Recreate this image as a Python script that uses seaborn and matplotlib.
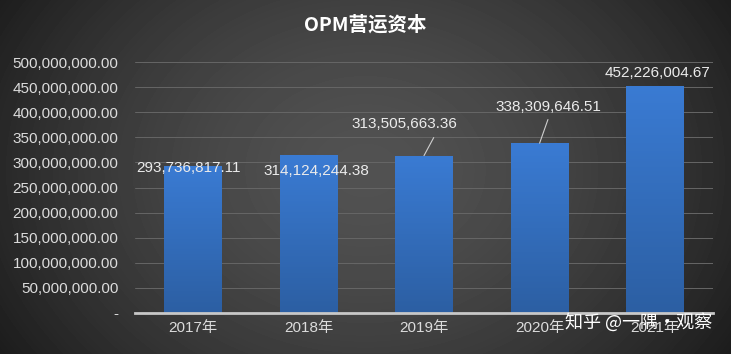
import numpy as np
import pandas as pd
import seaborn as sns
import matplotlib.pyplot as plt
from matplotlib.colors import LinearSegmentedColormap
from matplotlib.ticker import FuncFormatter

years = ["2017年", "2018年", "2019年", "2020年", "2021年"]
opm = [293736817.11, 314124244.38, 313505663.36, 338309646.51, 452226004.67]
y_ticks = [0, 50e6, 100e6, 150e6, 200e6, 250e6, 300e6, 350e6, 400e6, 450e6, 500e6]

# label offsets (points) and leader line ends, per bar
label_offsets = [(-3, -2), (6, -11), (-14, 23), (6, 26), (2, 9)]
leader_ends = [None, None, (7, 13), (6, 17), None]

sns.set_style("dark")
plt.rcParams["font.family"] = ["Liberation Sans", "Noto Sans CJK SC", "DejaVu Sans"]

df = pd.DataFrame({"year": years, "value": opm})

fig = plt.figure(figsize=(7.31, 3.54), dpi=100)

# radial grey background
bg = fig.add_axes([0, 0, 1, 1], zorder=-10)
yy, xx = np.mgrid[0:354, 0:731]
r = np.sqrt(((xx - 365) / 420.0) ** 2 + ((yy - 170) / 330.0) ** 2)
shade = np.clip(0.32 - 0.2 * r ** 1.6, 0.11, 0.4)
bg.imshow(shade, cmap="gray", vmin=0, vmax=1, aspect="auto")
bg.axis("off")

ax = fig.add_axes([135 / 731, 1 - 313 / 354, 578 / 731, 251 / 354])
ax.set_facecolor("none")

sns.barplot(df, x="year", y="value", color="#3675c6", width=0.5,
            saturation=1, errorbar=None, ax=ax, zorder=3,
            edgecolor="none", linewidth=0)

# vertical gradient inside each bar
grad = np.linspace(1, 0, 100).reshape(-1, 1)
cmap = LinearSegmentedColormap.from_list("bar", ["#2c5fa3", "#3a7bd3"])
for p in ax.patches:
    x0, w, h = p.get_x(), p.get_width(), p.get_height()
    im = ax.imshow(grad, extent=[x0, x0 + w, 0, h], aspect="auto",
                   cmap=cmap, zorder=3.5)
    im.set_clip_path(p)

ax.set_xlim(-0.5, len(years) - 0.5)
ax.set_ylim(0, 500e6)
ax.set_yticks(y_ticks)
ax.yaxis.set_major_formatter(
    FuncFormatter(lambda v, pos: "-" if v == 0 else f"{v:,.2f}"))
ax.grid(axis="y", color="#666666", linewidth=0.7, zorder=0)
ax.grid(axis="x", visible=False)
for s in ["top", "right", "left"]:
    ax.spines[s].set_visible(False)
ax.spines["bottom"].set_color("#c8c8c8")
ax.spines["bottom"].set_linewidth(2)
ax.spines["bottom"].set_zorder(5)
ax.tick_params(axis="y", colors="#dcdcdc", labelsize=11, length=0, pad=12)
ax.tick_params(axis="x", colors="#dcdcdc", labelsize=11, length=0, pad=6)
ax.set_xlabel("")
ax.set_ylabel("")

for i, v in enumerate(opm):
    ax.annotate(f"{v:,.2f}", xy=(i, v), xytext=label_offsets[i],
                textcoords="offset points", ha="center", va="center",
                color="#ebebeb", fontsize=11, zorder=6)
    if leader_ends[i] is not None:
        ax.annotate("", xy=(i, v), xytext=leader_ends[i],
                    textcoords="offset points",
                    arrowprops=dict(arrowstyle="-", color="#cfcfcf", lw=0.8,
                                    shrinkA=0, shrinkB=0), zorder=6)

fig.text(0.5, 1 - 25 / 354, "OPM营运资本", ha="center", va="center",
         color="white", fontsize=14, fontweight="bold",
         family=["Noto Sans CJK SC", "DejaVu Sans"])
fig.text(712 / 731, 1 - 322 / 354, "知乎 @一隅·观察", ha="right", va="center",
         color="white", fontsize=13, family=["Noto Sans CJK SC", "DejaVu Sans"])

fig.savefig("out.png", dpi=100)
